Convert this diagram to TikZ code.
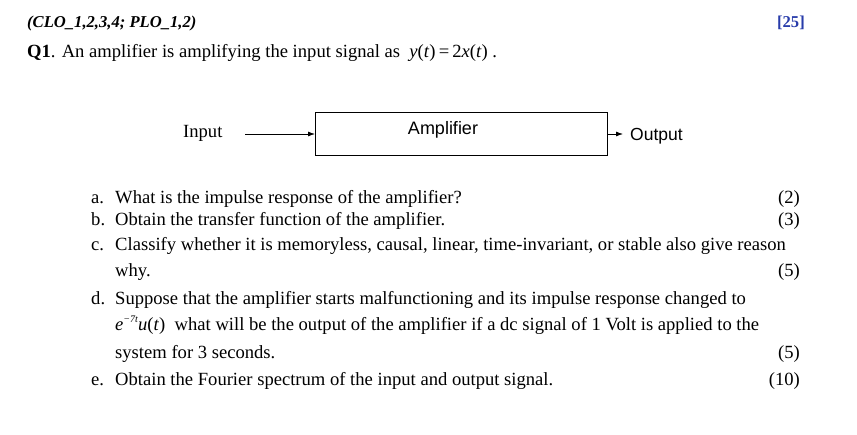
\documentclass[tikz,border=0pt]{standalone}
\usepackage{fontspec}
\setmainfont{Liberation Serif}
\newfontfamily\arialf{Liberation Sans}
\usetikzlibrary{arrows.meta}
\begin{document}
\begin{tikzpicture}[x=1pt,y=-1pt,
  txt/.style={anchor=base west,inner sep=0pt,font=\fontsize{18.6}{22}\selectfont},
  num/.style={anchor=base east,inner sep=0pt,font=\fontsize{18.6}{22}\selectfont},
  arr/.style={-{Latex[length=7pt,width=5pt]},line width=0.8pt}]
\useasboundingbox (0,0) rectangle (857,434);
\node[txt,font=\bfseries\itshape\fontsize{16.6}{20}\selectfont] (h) at (27,27) {(CLO\_1,2,3,4; PLO\_1,2)};
\node[num,font=\bfseries\fontsize{16.6}{20}\selectfont,text={rgb,255:red,40;green,60;blue,170}] (s) at (805,27) {[25]};
\node[txt] (q) at (27,57) {\textbf{Q1}. An amplifier is amplifying the input signal as\ \ \textit{y}(\textit{t})\,=\,2\textit{x}(\textit{t}) .};
\node[draw,line width=0.8pt,minimum width=292pt,minimum height=43pt,anchor=north west] (amp) at (315,112) {};
\node[txt,anchor=base,font=\arialf\fontsize{18}{22}\selectfont] (al) at (443,134) {Amplifier};
\node[txt] (in) at (183,137) {Input};
\node[txt,font=\arialf\fontsize{17.5}{22}\selectfont] (out) at (630,140) {Output};
\coordinate (a0) at (245,134);
\coordinate (o1) at (623,134);
\draw[arr] (a0) -- (amp.west |- a0);
\draw[arr] (amp.east |- o1) -- (o1);
\node[txt] (la) at (91,203) {a.};
\node[txt] (ta) at (115,203) {What is the impulse response of the amplifier?};
\node[num] (na) at (800,203) {(2)};
\node[txt] (lb) at (91,225) {b.};
\node[txt] (tb) at (115,225) {Obtain the transfer\ function of the amplifier.};
\node[num] (nb) at (800,225) {(3)};
\node[txt] (lc) at (91,250) {c.};
\node[txt] (tc) at (115,250) {Classify whether it is memoryless,\ causal, linear, time-invariant, or stable also give reason};
\node[txt] (tc2) at (115,276) {why.};
\node[num] (nc) at (800,276) {(5)};
\node[txt] (ld) at (91,304) {d.};
\node[txt] (td) at (115,304) {Suppose that the amplifier starts malfunctioning and its impulse response changed to};
\node[txt] (td2) at (115,330) {\textit{e}\raisebox{0.9ex}{\fontsize{10}{10}\selectfont\textit{−7t}}\textit{u}(\textit{t})\ \ what will be the output of the amplifier\ if a dc signal of 1 Volt is applied to the};
\node[txt] (td3) at (115,358) {system\ for 3 seconds.};
\node[num] (nd) at (800,358) {(5)};
\node[txt] (le) at (91,385) {e.};
\node[txt] (te) at (115,385) {Obtain the Fourier spectrum of the input and output signal.};
\node[num] (ne) at (800,385) {(10)};
\end{tikzpicture}
\end{document}
